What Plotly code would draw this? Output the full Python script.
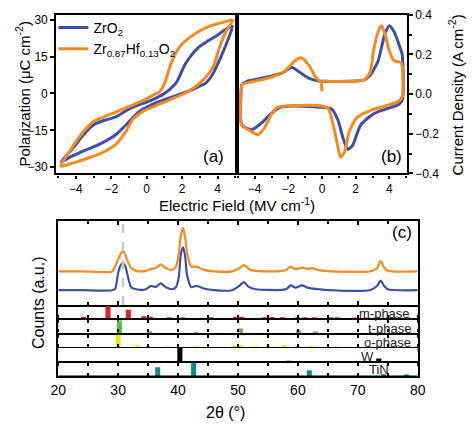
import plotly.graph_objects as go

W, H = 474, 431
FONT = "Arial, Liberation Sans, sans-serif"
BLUE = "#3d50a5"
ORANGE = "#f58a1f"

# ---------------- data ----------------
LABEL_ZRO2 = "ZrO<sub>2</sub>"
LABEL_HZO = "Zr<sub>0.87</sub>Hf<sub>0.13</sub>O<sub>2</sub>"

# (a) P-E loops (field decreasing branch, then field increasing branch)
pe_zro2_E = [4.83, 4.4, 4.03, 3.5, 2.93, 2.2, 1.66, 1.1, 0.5, 0.0, -0.9, -1.71, -2.4, -2.99, -3.54, -4.26, -4.81,
             -4.3, -3.72, -2.62, -1.71, -1.16, -0.44, 0.3, 1.2, 2.39, 2.93, 3.3, 3.7, 4.2, 4.57, 4.83]
pe_zro2_P = [27.4, 25.8, 23.9, 21.5, 18.7, 12.2, 4.3, 0.5, -2.0, -3.5, -6.0, -9.4, -11.0, -12.7, -16.6, -23.1, -27.7,
             -25.8, -23.8, -20.5, -16.6, -12.7, -7.5, -4.5, -2.0, 1.0, 2.8, 4.0, 7.5, 15.0, 21.5, 27.4]
pe_hzo_E = [4.85, 4.2, 3.48, 2.39, 1.84, 1.38, 1.02, 0.75, 0.38, 0.0, -0.9, -1.71, -2.4, -2.99, -3.54, -4.26, -4.83,
            -4.4, -3.9, -2.62, -1.71, -1.16, -0.8, -0.26, 0.5, 1.5, 2.39, 3.11, 3.75, 4.11, 4.48, 4.85]
pe_hzo_P = [29.8, 28.7, 27.2, 22.6, 18.7, 12.2, 4.3, 0.8, -0.6, -2.2, -5.0, -7.5, -9.5, -11.4, -15.3, -22.5, -29.5,
            -28.8, -27.7, -24.5, -20.5, -15.3, -10.7, -7.5, -5.0, -2.0, 1.0, 4.9, 10.8, 18.7, 25.2, 29.8]

# (b) I-E loops
ie_zro2_E = [-4.76, -4.4, -3.24, -2.29, -1.81, -1.33, -0.76, -0.19, 0.5, 2.46, 2.86, 3.33, 3.71, 4.0, 4.29, 4.57, 4.76,
             4.78, 4.57, 3.81, 3.05, 2.29, 1.81, 1.52, 1.24, 0.95, 0.57, 0.0, -1.7, -2.48, -3.05, -3.62, -4.19, -4.76, -4.78]
ie_zro2_J = [0.05, 0.066, 0.086, 0.11, 0.135, 0.11, 0.079, 0.066, 0.064, 0.07, 0.095, 0.167, 0.297, 0.345, 0.313, 0.25, 0.2,
             -0.027, -0.051, -0.075, -0.1, -0.156, -0.26, -0.278, -0.22, -0.132, -0.075, -0.067, -0.06, -0.067, -0.1, -0.148, -0.18, -0.156, 0.05]
ie_hzo_E = [0.0, 0.0, 0.6, 2.46, 2.86, 3.05, 3.33, 3.52, 3.71, 4.0, 4.29, 4.67, 4.78, 4.78, 4.57, 3.81, 2.86, 2.1, 1.62, 1.33,
            1.1, 0.95, 0.67, 0.38, 0.0, -2.67, -3.05, -3.43, -3.81, -4.38, -4.78, -4.78, -4.7, -3.24, -2.29, -1.62, -1.24,
            -0.76, -0.38, -0.1]
ie_hzo_J = [0.014, 0.064, 0.064, 0.07, 0.11, 0.216, 0.313, 0.345, 0.313, 0.216, 0.167, 0.159, 0.13, -0.01, -0.035, -0.059,
            -0.083, -0.116, -0.188, -0.294, -0.318, -0.27, -0.156, -0.075, -0.06, -0.067, -0.108, -0.172, -0.205, -0.18,
            -0.156, 0.04, 0.05, 0.079, 0.11, 0.167, 0.183, 0.143, 0.086, 0.062]

# (c) XRD patterns (a.u., stacked)
xrd_2theta = [20, 24, 29, 29.5, 30.0, 30.4, 30.8, 31.2, 31.6, 32.2, 33, 34.5, 35.5, 36.3, 37.1, 37.9, 39, 39.6, 40.1,
              40.45, 40.8, 41.15, 41.5, 42.2, 43.1, 44.3, 46, 49, 50.2, 51, 51.8, 53, 57, 58.1, 58.8, 59.6, 60.7, 61.6,
              62.5, 63.5, 65, 72, 73.2, 73.8, 74.4, 75, 80]
xrd_hzo = [34.7, 34.7, 34.7, 40, 47, 53, 55.7, 52, 45, 38, 35.3, 35, 37.3, 38.3, 42, 38.3, 36.3, 39, 52,
           71, 79.7, 71, 54, 39.7, 39.7, 36.3, 34.7, 34.7, 38, 41.3, 37.3, 35.3, 35, 36.3, 39.7, 37, 38.7, 37.3,
           38, 36, 35, 34.7, 38, 45.3, 38.7, 35.3, 34.7]
xrd_zro2 = [15.3, 15.3, 15.3, 17, 33, 41, 43, 40, 30, 18, 16.3, 16, 19.7, 18.7, 22.3, 18.7, 16.3, 18, 28,
            52, 59.7, 52, 31, 18.5, 19.7, 17, 15.3, 15.3, 19.7, 23.7, 18.7, 16.3, 15.5, 16.5, 20.3, 18, 20.3, 18,
            17, 16.3, 15.5, 15.3, 19.7, 25.3, 19.7, 16.3, 15.3]
REF_PEAK = 30.8

# reference stick patterns (relative intensity, %)
m_pos = [24.2, 28.3, 31.7, 34.3, 35.4, 38.5, 40.8, 45.5, 49.6, 50.6, 54.5, 55.7, 57.5, 59.9, 61.2, 62.8, 65.5, 66.6, 69.5,
         71.5, 73.0, 76.0, 78.5]
m_int = [18, 92, 66, 22, 18, 14, 15, 14, 18, 18, 14, 16, 14, 14, 14, 14, 14, 14, 12, 12, 12, 12, 12]
t_pos = [30.2, 35.2, 43.0, 50.4, 60.1, 62.9, 73.8]
t_int = [92, 16, 10, 36, 24, 14, 12]
o_pos = [30.0, 33.2, 35.1, 38.2, 43.0, 49.3, 50.5, 53.0, 55.0, 57.7, 59.9, 62.2, 65.0, 66.6, 79.8]
o_int = [92, 18, 18, 12, 12, 18, 18, 12, 12, 18, 18, 14, 10, 12, 12]
w_pos = [40.3, 58.5, 73.5]
w_int = [100, 10, 26]
tin_pos = [36.6, 42.6, 61.9, 74.3, 78.1]
tin_int = [66, 96, 45, 16, 14]

phase_names = ["m-phase", "t-phase", "o-phase", "W", "TiN"]
phase_pos = [m_pos, t_pos, o_pos, w_pos, tin_pos]
phase_int = [m_int, t_int, o_int, w_int, tin_int]
phase_colors = ["#e3202a", "#5bb74a", "#f1e51d", "#000000", "#0f8c8c"]

x_ticks_field = [-4, -2, 0, 2, 4]
y_ticks_pol = [-30, -15, 0, 15, 30]
y_ticks_cur = [-0.4, -0.2, 0.0, 0.2, 0.4]
x_ticks_2theta = [20, 30, 40, 50, 60, 70, 80]

# ---------------- layout helpers ----------------
def xd(a, b):
    return [a / W, b / W]

def yd(top, bot):
    return [1 - bot / H, 1 - top / H]

fig = go.Figure()

# (a)
fig.add_trace(go.Scatter(x=pe_zro2_E, y=pe_zro2_P, mode="lines", name=LABEL_ZRO2,
                         line=dict(color=BLUE, width=3, shape="spline", smoothing=0.8), xaxis="x", yaxis="y"))
fig.add_trace(go.Scatter(x=pe_hzo_E, y=pe_hzo_P, mode="lines", name=LABEL_HZO,
                         line=dict(color=ORANGE, width=3, shape="spline", smoothing=0.8), xaxis="x", yaxis="y"))
# (b)
fig.add_trace(go.Scatter(x=ie_zro2_E, y=ie_zro2_J, mode="lines", showlegend=False,
                         line=dict(color=BLUE, width=3, shape="spline", smoothing=0.6), xaxis="x2", yaxis="y2"))
fig.add_trace(go.Scatter(x=ie_hzo_E, y=ie_hzo_J, mode="lines", showlegend=False,
                         line=dict(color=ORANGE, width=3, shape="spline", smoothing=0.6), xaxis="x2", yaxis="y2"))
# (c) spectra
fig.add_trace(go.Scatter(x=xrd_2theta, y=xrd_zro2, mode="lines", showlegend=False,
                         line=dict(color=BLUE, width=2.2, shape="spline", smoothing=0.7), xaxis="x3", yaxis="y3"))
fig.add_trace(go.Scatter(x=xrd_2theta, y=xrd_hzo, mode="lines", showlegend=False,
                         line=dict(color=ORANGE, width=2.2, shape="spline", smoothing=0.7), xaxis="x3", yaxis="y3"))
# (c) sticks
for i in range(5):
    fig.add_trace(go.Bar(x=phase_pos[i], y=phase_int[i], width=0.85, marker=dict(color=phase_colors[i], line=dict(width=0)),
                         showlegend=False, xaxis=f"x{4+i}", yaxis=f"y{4+i}"))

common = dict(showline=True, linecolor="black", zeroline=False, showgrid=False,
              tickcolor="black", tickfont=dict(family=FONT, size=12, color="black"))

lay = dict(
    width=W, height=H, margin=dict(l=0, r=0, t=0, b=0),
    paper_bgcolor="white", plot_bgcolor="white",
    font=dict(family=FONT, color="black"),
    showlegend=True,
    legend=dict(x=47 / W, y=1 - 5 / H, xanchor="left", yanchor="top", bgcolor="rgba(0,0,0,0)",
                font=dict(family=FONT, size=14, color="black")),
)

lay["xaxis"] = dict(common, domain=xd(50, 237), anchor="y", range=[-5.1, 5.1], tickvals=x_ticks_field,
                    ticks="outside", ticklen=3, tickwidth=2, mirror=True, linewidth=2.2,
                    minor=dict(dtick=1, tick0=0, ticks="outside", ticklen=2.5, tickwidth=1.5, tickcolor="black"))
lay["yaxis"] = dict(common, domain=yd(8, 172), anchor="x", range=[-32.5, 32], tickvals=y_ticks_pol,
                    ticks="outside", ticklen=4, tickwidth=2, mirror=True, linewidth=2.2)
lay["xaxis2"] = dict(common, domain=xd(237, 413), anchor="y2", range=[-5.05, 5.05], tickvals=x_ticks_field,
                     ticks="outside", ticklen=3, tickwidth=2, mirror=True, linewidth=2.2,
                     minor=dict(dtick=1, tick0=0, ticks="outside", ticklen=2.5, tickwidth=1.5, tickcolor="black"))
lay["yaxis2"] = dict(common, domain=yd(8, 172), anchor="x2", side="right", range=[-0.4, 0.4], tickvals=y_ticks_cur,
                     tickformat=".1f", ticks="outside", ticklen=4, tickwidth=2, mirror=True, linewidth=1.8,
                     minor=dict(dtick=0.1, tick0=0, ticks="outside", ticklen=3, tickwidth=1.5, tickcolor="black"))

xr = [20, 80]
lay["xaxis3"] = dict(common, domain=xd(52, 424), anchor="y3", range=xr, tickvals=x_ticks_2theta, showticklabels=False,
                     ticks="inside", ticklen=4, tickwidth=2, mirror="ticks", linewidth=2.4,
                     minor=dict(dtick=5, tick0=0, ticks="inside", ticklen=3, tickwidth=2, tickcolor="black"))
lay["yaxis3"] = dict(common, domain=yd(221, 308), anchor="x3", range=[0, 87], showticklabels=False, ticks="",
                     mirror=True, linewidth=2.4)

strip_top = 308.0
strip_h = 14.8
for i in range(5):
    n = 4 + i
    top = strip_top + strip_h * i
    last = (i == 4)
    first = (i == 0)
    lay[f"xaxis{n}"] = dict(common, domain=xd(52, 424), anchor=f"y{n}", range=xr, tickvals=x_ticks_2theta,
                            showticklabels=last, ticks="outside" if not last else "inside",
                            ticklen=3, tickwidth=2, mirror=False if first else "ticks", linewidth=1.3,
                            layer="below traces",
                            tickfont=dict(family=FONT, size=14, color="black"),
                            minor=dict(dtick=5, tick0=0, ticks="outside" if not last else "inside",
                                       ticklen=3, tickwidth=2, tickcolor="black"))
    lay[f"yaxis{n}"] = dict(common, domain=yd(top, top + strip_h), anchor=f"x{n}", range=[0, 100],
                            showticklabels=False, ticks="", mirror=True, linewidth=2.4, layer="below traces")

fig.update_layout(**lay)

# dashed guide line at the main ZrO2 peak
fig.add_shape(type="line", xref="x3", yref="y3 domain", x0=REF_PEAK, x1=REF_PEAK, y0=0, y1=1,
              line=dict(color="#c8c8c8", width=2.5, dash="dash"), layer="above")
# heavier outer bottom frame of panel (c)
fig.add_shape(type="line", xref="x8 domain", yref="y8 domain", x0=0, x1=1, y0=0, y1=0,
              line=dict(color="black", width=2.4), layer="above")

ann = []
def A(text, x, y, size, angle=0, xanchor="center", yanchor="middle", xref="paper", yref="paper", color="black"):
    ann.append(dict(text=text, x=x, y=y, xref=xref, yref=yref, showarrow=False, textangle=angle,
                    xanchor=xanchor, yanchor=yanchor, font=dict(family=FONT, size=size, color=color)))

A("(a)", 213 / W, 1 - 155 / H, 17)
A("(b)", 397 / W, 1 - 155 / H, 17)
A("(c)", 408 / W, 1 - 233 / H, 17)
A("Polarization (μC cm<sup>-2</sup>)", 15 / W, 1 - 89 / H, 15, angle=-90)
A("Electric Field (MV cm<sup>-1</sup>)", 237 / W, 1 - 204 / H, 15)
A("Current Density (A cm<sup>-2</sup>)", 463 / W, 1 - 91 / H, 15, angle=-90)
A("Counts (a.u.)", 31 / W, 1 - 306 / H, 16, angle=-90)
A("2θ (°)", 225 / W, 1 - 419 / H, 16)

label_x = [0.984, 0.987, 0.987, 0.884, 0.927]
label_y = [0.39, 0.38, 0.36, 0.42, 0.47]
for i in range(5):
    A(phase_names[i], label_x[i], label_y[i], 13, xanchor="right", xref=f"x{4+i} domain", yref=f"y{4+i} domain",
      color="#222222")

fig.update_layout(annotations=ann)
fig.write_html("out.html")
